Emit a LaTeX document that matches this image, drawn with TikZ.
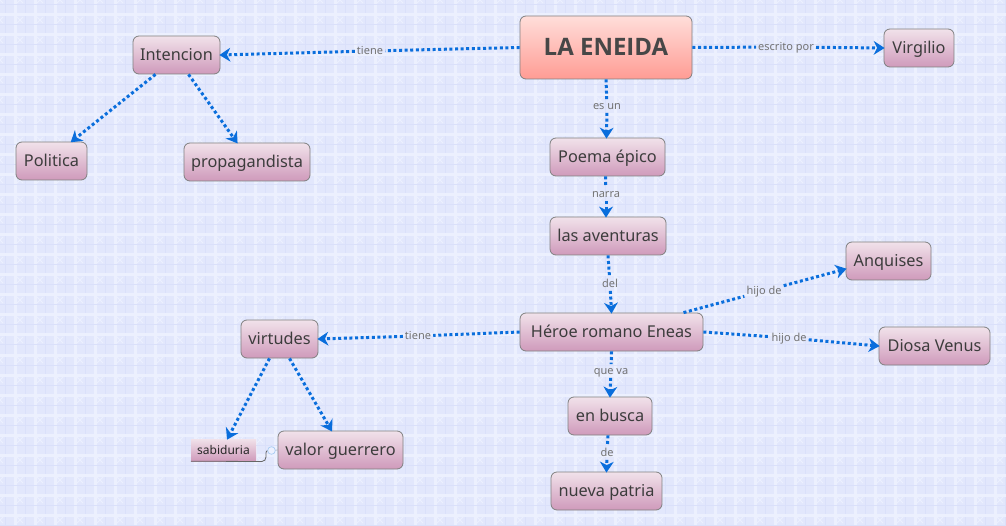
\documentclass[tikz,border=0pt]{standalone}
\usepackage{fontspec}
\setmainfont{Noto Sans}
\newfontfamily\rootfont{Open Sans}
\usetikzlibrary{arrows.meta,calc}
\definecolor{bgbase}{HTML}{E2E7FC}
\definecolor{bglight}{HTML}{ECF0FE}
\definecolor{bgdark}{HTML}{DAE0FA}
\definecolor{linkblue}{HTML}{0A6EDC}
\definecolor{inktext}{HTML}{3C3C3C}
\definecolor{pink1}{HTML}{F1E2EA}
\definecolor{pink2}{HTML}{CF9ABB}
\definecolor{root1}{HTML}{FFDEDA}
\definecolor{root2}{HTML}{FF9C94}
\tikzset{
  x=1pt,y=-1pt,
  pinkbox/.style={draw=black!50,line width=.8pt,rounded corners=6pt,top color=pink1,bottom color=pink2,inner sep=0pt,text=inktext,text height=13pt,text depth=2pt,font=\fontsize{16.3}{18}\selectfont},
  rootbox/.style={draw=black!50,line width=.8pt,rounded corners=6pt,top color=root1,bottom color=root2,inner sep=0pt,text=black!72,text height=20pt,text depth=3pt,font=\rootfont\fontsize{24}{26}\selectfont\bfseries},
  smallbox/.style={top color=pink1,bottom color=pink2,inner sep=0pt,text=black!85,text height=10pt,text depth=1pt,font=\fontsize{12}{14}\selectfont},
  linklabel/.style={text=black!55,text height=8.5pt,text depth=1pt,font=\fontsize{11}{12}\selectfont,inner sep=2pt},
  linkline/.style={draw=linkblue,line width=3pt,dash pattern=on 3pt off 2.6pt},
  linkarrow/.style={linkline,shorten >=-1pt,-{Stealth[length=11pt,width=14pt,inset=3.5pt,line width=0pt,fill=linkblue]}},
}
\begin{document}
\begin{tikzpicture}
\useasboundingbox (0,0) rectangle (1006,526);
\fill[bgbase] (0,0) rectangle (1006,526);
% background tiles
\foreach \i in {0,...,50}{
  \fill[bgdark] (\i*20+4.5,0) rectangle (\i*20+5.5,526);
  \fill[bglight] (\i*20+13.5,0) rectangle (\i*20+16.5,526);
}
\foreach \j in {0,...,26}{
  \fill[bgdark] (0,\j*20+4.5) rectangle (1006,\j*20+5.5);
  \fill[bglight] (0,\j*20+13.5) rectangle (1006,\j*20+16.5);
}
\foreach \i in {0,...,50}{\foreach \j in {0,...,26}{
  \draw[bglight,line width=1pt] (\i*20-3,\j*20-3) -- (\i*20+3,\j*20+3) (\i*20+3,\j*20-3) -- (\i*20-3,\j*20+3);
}}
% nodes
\node[rootbox,minimum width=172pt,minimum height=63pt] (eneida) at (606,47.5) {LA ENEIDA};
\node[pinkbox,minimum width=87pt,minimum height=38pt] (intencion) at (176.5,55) {Intencion};
\node[pinkbox,minimum width=70pt,minimum height=38pt] (virgilio) at (919,48) {Virgilio};
\node[pinkbox,minimum width=71pt,minimum height=38pt] (politica) at (51.5,161) {Politica};
\node[pinkbox,minimum width=126pt,minimum height=38pt] (propa) at (247,162) {propagandista};
\node[pinkbox,minimum width=115pt,minimum height=38pt] (poema) at (607.5,157) {Poema épico};
\node[pinkbox,minimum width=116pt,minimum height=38pt] (aventuras) at (608,236) {las aventuras};
\node[pinkbox,minimum width=85pt,minimum height=38pt] (anquises) at (888.5,261) {Anquises};
\node[pinkbox,minimum width=183pt,minimum height=38pt] (heroe) at (611.5,332) {Héroe romano Eneas};
\node[pinkbox,minimum width=111pt,minimum height=38pt] (venus) at (934.5,346) {Diosa Venus};
\node[pinkbox,minimum width=77pt,minimum height=38pt] (virtudes) at (279.5,339) {virtudes};
\node[pinkbox,minimum width=84pt,minimum height=38pt] (busca) at (610,416) {en busca};
\node[pinkbox,minimum width=125pt,minimum height=38pt] (valor) at (340.5,450) {valor guerrero};
\node[pinkbox,minimum width=111pt,minimum height=38pt] (patria) at (606.5,491) {nueva patria};
\node[smallbox,minimum width=65pt,minimum height=22pt] (sabiduria) at (223.5,450) {sabiduria};
% link labels
\node[linklabel] (l1) at (370,51) {tiene};
\node[linklabel] (l2) at (786,47) {escrito por};
\node[linklabel] (l3) at (607,106) {es un};
\node[linklabel] (l4) at (606,194) {narra};
\node[linklabel] (l5) at (610,284) {del};
\node[linklabel] (l6) at (764,291) {hijo de};
\node[linklabel] (l7) at (789,338) {hijo de};
\node[linklabel] (l8) at (418,336) {tiene};
\node[linklabel] (l9) at (611,371) {que va};
\node[linklabel] (l10) at (607,453) {de};
% connectors
\draw[linkline] (eneida.west) -- (l1);
\draw[linkarrow] (l1) -- (intencion.east);
\draw[linkline] (eneida.east) -- (l2);
\draw[linkarrow] (l2) -- (virgilio.west);
\draw[linkline] (eneida.south) -- (l3);
\draw[linkarrow] (l3) -- ([xshift=-1pt]poema.north);
\draw[linkline] ([xshift=-2pt]poema.south) -- (l4);
\draw[linkarrow] (l4) -- ([xshift=-2pt]aventuras.north);
\draw[linkline] (aventuras.south) -- (l5);
\draw[linkarrow] (l5) -- (heroe.north);
\draw[linkline] ([xshift=72pt]heroe.north) -- (l6);
\draw[linkarrow] (l6) -- ([yshift=-8pt]anquises.west);
\draw[linkline] (heroe.east) -- (l7);
\draw[linkarrow] (l7) -- (venus.west);
\draw[linkline] (heroe.west) -- (l8);
\draw[linkarrow] (l8) -- (virtudes.east);
\draw[linkline] (heroe.south) -- (l9);
\draw[linkarrow] (l9) -- (busca.north);
\draw[linkline] ([xshift=-2pt]busca.south) -- (l10);
\draw[linkarrow] (l10) -- (patria.north);
\draw[linkarrow] ([xshift=-21pt]intencion.south) -- ([xshift=20pt]politica.north);
\draw[linkarrow] ([xshift=12pt]intencion.south) -- ([xshift=-10pt]propa.north);
\draw[linkarrow] ([xshift=-10pt]virtudes.south) -- ([xshift=4pt]sabiduria.north);
\draw[linkarrow] ([xshift=10pt]virtudes.south) -- ([xshift=-9pt]valor.north);
% callout between sabiduria and valor guerrero
\draw[black!60,line width=.8pt] (sabiduria.south west) -- (262,461.5) to[out=0,in=270] (266,457) -- (266,453) to[out=90,in=180] (268,450.5);
\draw[black!35,line width=.6pt] (valor.west) -- (271.5,450.5);
\draw[linkblue!35,line width=.7pt,fill=bglight] (271.5,450.5) circle (3.8);
\end{tikzpicture}
\end{document}
